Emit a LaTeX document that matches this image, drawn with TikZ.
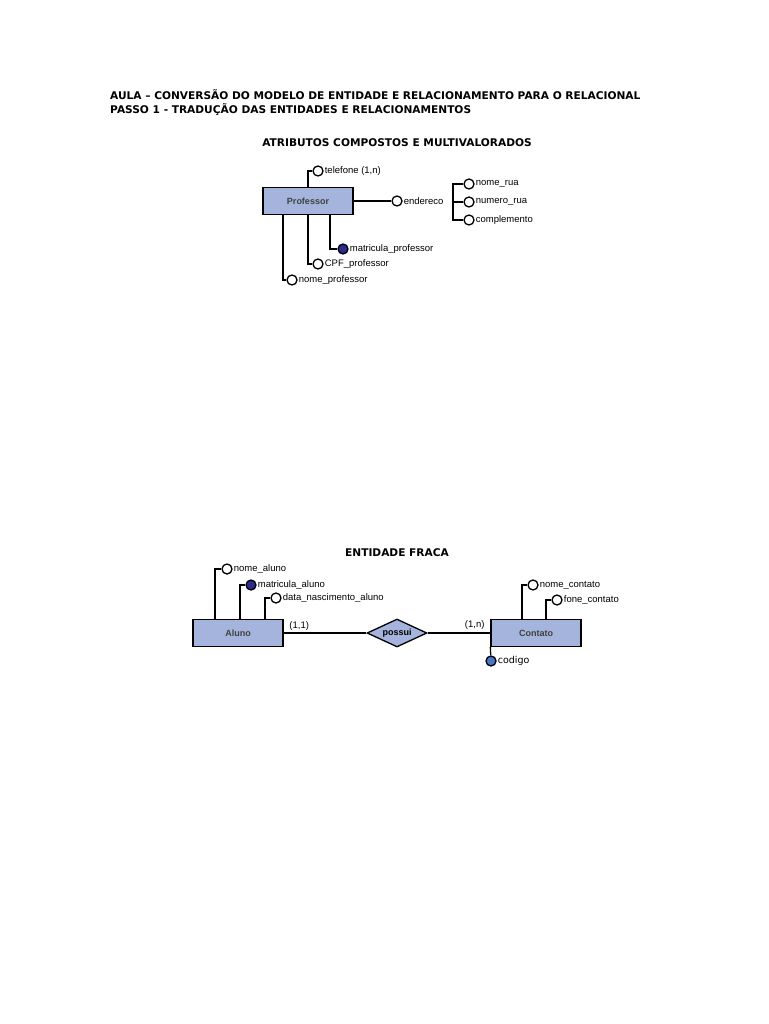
\documentclass[tikz,border=0pt]{standalone}
\usepackage{fontspec}
\setmainfont{DejaVu Sans}
\newfontfamily\erfont{Liberation Sans}
\usetikzlibrary{calc, positioning, shapes.geometric}
\definecolor{entfill}{HTML}{A4B4DC}
\definecolor{keyfill}{HTML}{2B2B8C}
\definecolor{weakkey}{HTML}{4A78C8}
\tikzset{
  entity/.style={draw, line width=1.3pt, fill=entfill, minimum width=90pt, minimum height=27pt, font=\erfont\bfseries\fontsize{9}{10}\selectfont, text=black!75},
  rel/.style={draw, diamond, aspect=2.2, line width=1.3pt, fill=entfill, minimum width=60pt, minimum height=28pt, inner sep=0pt, font=\erfont\bfseries\fontsize{9}{10}\selectfont},
  attr/.style={circle, draw, line width=1.3pt, fill=white, minimum size=10pt, inner sep=0pt},
  key/.style={attr, fill=keyfill},
  lbl/.style={right, inner sep=1pt, font=\erfont\fontsize{9.5}{10}\selectfont},
  conn/.style={line width=1.3pt},
  title/.style={font=\bfseries\fontsize{10.6}{12}\selectfont, inner sep=0pt}
}
\begin{document}
\begin{tikzpicture}[x=1pt, y=-1pt]
  \useasboundingbox (0,0) rectangle (768,1024);
  % headers
  \node[title, anchor=west] (t1) at (110,95) {AULA -- CONVERSÃO DO MODELO DE ENTIDADE E RELACIONAMENTO PARA O RELACIONAL};
  \node[title, anchor=west] (t2) at (110,110) {PASSO 1 - TRADUÇÃO DAS ENTIDADES E RELACIONAMENTOS};
  \node[title] (t3) at (397,143) {ATRIBUTOS COMPOSTOS E MULTIVALORADOS};
  \node[title] (t4) at (397,553) {ENTIDADE FRACA};

  % composite and multivalued attributes
  \node[entity] (prof) at (308,201) {Professor};
  \node[attr] (tel) at (318,171) {};
  \node[lbl] at (tel.east) {telefone (1,n)};
  \node[attr] (end) at (397,201) {};
  \node[lbl] (endlbl) at (end.east) {endereco};
  \node[attr] (rua) at (469,184) {};
  \node[lbl] at (rua.east) {nome\_rua};
  \node[attr] (num) at (469,202) {};
  \node[lbl] at (num.east) {numero\_rua};
  \node[attr] (comp) at (469,220) {};
  \node[lbl] at (comp.east) {complemento};
  \node[key] (mat) at (343,249) {};
  \node[lbl] at (mat.east) {matricula\_professor};
  \node[attr] (cpf) at (318,264) {};
  \node[lbl] at (cpf.east) {CPF\_professor};
  \node[attr] (nome) at (292,280) {};
  \node[lbl] at (nome.east) {nome\_professor};
  \coordinate (split) at (453,202);
  \draw[conn] (prof.north) |- (tel);
  \draw[conn] (prof.east) -- (end);
  \draw[conn] (rua) -| (split) |- (comp);
  \draw[conn] (split) -- (num);
  \draw[conn] ($(prof.south)+(22,0)$) |- (mat);
  \draw[conn] (prof.south) |- (cpf);
  \draw[conn] ($(prof.south)+(-25,0)$) |- (nome);

  % weak entity
  \node[entity] (aluno) at (238,633) {Aluno};
  \node[rel] (possui) at (397,633) {possui};
  \node[entity] (cont) at (536,633) {Contato};
  \node[attr] (nal) at (227,569) {};
  \node[lbl] at (nal.east) {nome\_aluno};
  \node[key] (mal) at (251,585) {};
  \node[lbl] at (mal.east) {matricula\_aluno};
  \node[attr] (dal) at (276,598) {};
  \node[lbl] at (dal.east) {data\_nascimento\_aluno};
  \node[attr] (nco) at (533,585) {};
  \node[lbl] at (nco.east) {nome\_contato};
  \node[attr] (fco) at (557,600) {};
  \node[lbl] at (fco.east) {fone\_contato};
  \node[key, fill=weakkey] (cod) at (491,661) {};
  \node[right, inner sep=1pt, font=\fontsize{9.5}{10}\selectfont] at (cod.east) {codigo};
  \draw[conn] ($(aluno.north)+(-23,0)$) |- (nal);
  \draw[conn] ($(aluno.north)+(2,0)$) |- (mal);
  \draw[conn] ($(aluno.north)+(27,0)$) |- (dal);
  \draw[conn] ($(cont.north)+(-14,0)$) |- (nco);
  \draw[conn] ($(cont.north)+(10,0)$) |- (fco);
  \draw[conn] (cont.south west) -- (cod);
  \draw[conn] (aluno) -- node[lbl, pos=0.05, above=1pt, anchor=south west] {(1,1)} (possui);
  \draw[line width=2.6pt] (possui) -- node[lbl, pos=0.75, above=1pt, anchor=south] {(1,n)} (cont);
\end{tikzpicture}
\end{document}
